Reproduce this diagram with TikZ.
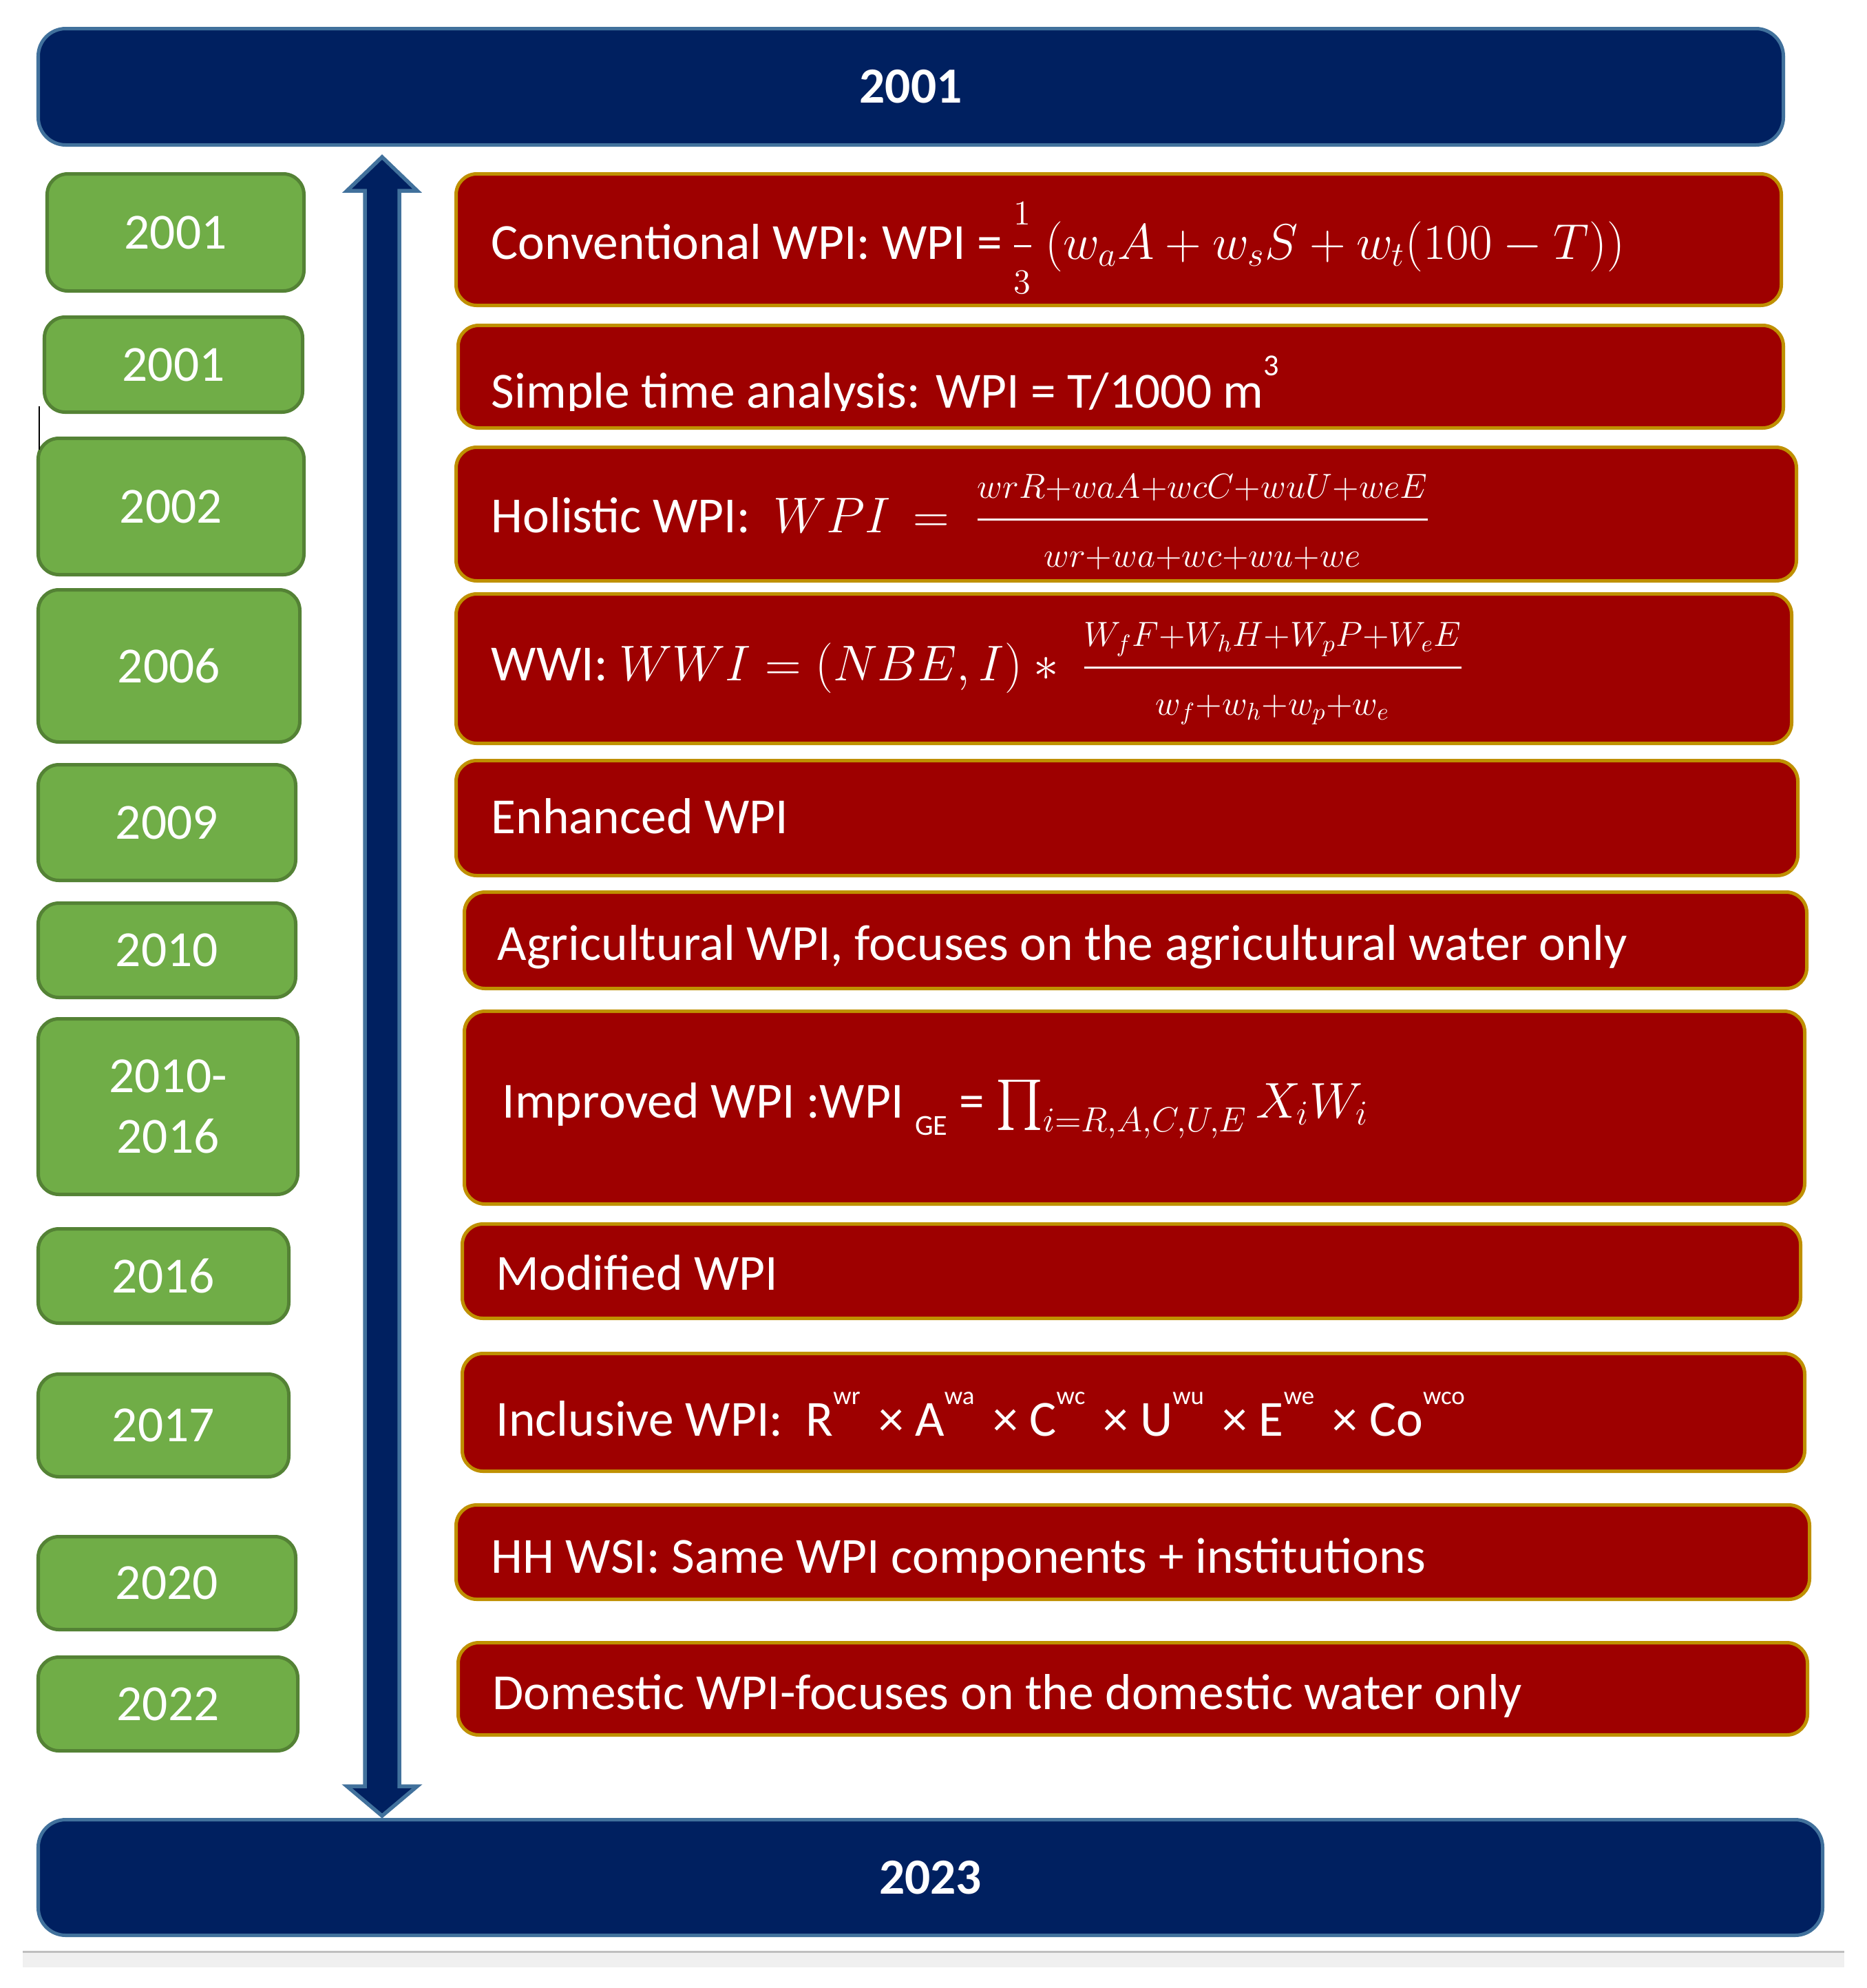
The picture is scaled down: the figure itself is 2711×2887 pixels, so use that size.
\documentclass[tikz,border=0pt]{standalone}
\usepackage{fontspec}
\setmainfont{Carlito}
\usepackage{amsmath}
\definecolor{gfill}{HTML}{70AD47}
\definecolor{gborder}{HTML}{548235}
\definecolor{rfill}{HTML}{9E0000}
\definecolor{rborder}{HTML}{BF9000}
\definecolor{nfill}{HTML}{002060}
\definecolor{nborder}{HTML}{41719C}
\tikzset{
  basebox/.style={rounded corners=0.3cm, line width=0.05cm, inner sep=0pt, text=white,
    font=\fontsize{20.9}{25}\selectfont},
  gbox/.style={basebox, draw=gborder, fill=gfill, align=center},
  rbox/.style={basebox, draw=rborder, fill=rfill},
  nbox/.style={basebox, draw=nborder, fill=nfill, rounded corners=0.4cm,
    font=\fontsize{20.9}{25}\selectfont\bfseries},
  rtext/.style={anchor=base west, inner sep=0pt, text=white,
    font=\fontsize{20.9}{25}\selectfont},
}
\newcommand\mkbox[7]{\node[#1, minimum width={(#5-#3-5)*0.01cm}, minimum height={(#6-#4-5)*0.01cm}] (#2) at ({(#3+#5)/2},{(#4+#6)/2}) {#7};}
\newcommand\supr[1]{\raisebox{0.62em}{\fontsize{10.5}{10.5}\selectfont #1}\hspace{0.1cm}}
\begin{document}
\begin{tikzpicture}[x=0.01cm,y=-0.01cm]
\useasboundingbox[fill=white] (0,0) rectangle (2711,2887);
% top and bottom bars
\mkbox{nbox}{top}{53}{39}{2593}{213}{2001}
\mkbox{nbox}{bottom}{53}{2640}{2650}{2813}{2023}
% timeline arrow
\coordinate (atop) at (555,228);
\coordinate (abot) at (555,2637);
\draw[nborder, fill=nfill, line width=0.055cm, line join=miter]
  (atop) -- (606,277) -- (580,277) -- (580,2594) -- (606,2594) -- (abot)
  -- (504,2594) -- (530,2594) -- (530,277) -- (504,277) -- cycle;
% year boxes
\mkbox{gbox}{g1}{66}{250}{444}{425}{2001}
\mkbox{gbox}{g2}{62}{458}{442}{601}{2001}
\mkbox{gbox}{g3}{53}{634}{444}{837}{2002}
\mkbox{gbox}{g4}{53}{854}{438}{1080}{2006}
\mkbox{gbox}{g5}{53}{1108}{432}{1281}{2009}
\mkbox{gbox}{g6}{53}{1309}{432}{1451}{2010}
\mkbox{gbox}{g7}{53}{1477}{435}{1737}{2010-\\2016}
\mkbox{gbox}{g8}{53}{1782}{422}{1924}{2016}
\mkbox{gbox}{g9}{53}{1993}{422}{2147}{2017}
\mkbox{gbox}{g10}{53}{2229}{432}{2369}{2020}
\mkbox{gbox}{g11}{53}{2404}{435}{2545}{2022}
% index boxes
\mkbox{rbox}{r1}{660}{250}{2590}{446}{}
\mkbox{rbox}{r2}{663}{470}{2593}{624}{}
\mkbox{rbox}{r3}{660}{647}{2612}{846}{}
\mkbox{rbox}{r4}{660}{860}{2605}{1082}{}
\mkbox{rbox}{r5}{660}{1102}{2614}{1274}{}
\mkbox{rbox}{r6}{672}{1293}{2627}{1438}{}
\mkbox{rbox}{r7}{672}{1466}{2624}{1751}{}
\mkbox{rbox}{r8}{669}{1775}{2618}{1917}{}
\mkbox{rbox}{r9}{669}{1963}{2624}{2139}{}
\mkbox{rbox}{r10}{660}{2183}{2631}{2325}{}
\mkbox{rbox}{r11}{663}{2383}{2628}{2522}{}
% texts
\node[rtext] (t1) at (713,376) {Conventional WPI: WPI =\,$\dfrac{\scriptstyle 1}{\scriptstyle 3}$ $(w_aA+w_sS+w_t(100-T))$};
\begin{scope}
  \clip (663,470) rectangle (2593,596);
  \node[rtext] (t2) at (713,592) {Simple time analysis: WPI = T/1000 m\raisebox{0.63em}{\fontsize{12.6}{12.6}\selectfont 3}};
\end{scope}
\node[rtext] (t3) at (713,773) {Holistic WPI:\ \ $WPI\,=\ \dfrac{\scriptstyle wrR+waA+wcC+wuU+weE}{\scriptstyle wr+wa+wc+wu+we}$};
\node[rtext] (t4) at (713,988) {WWI: $WWI=(NBE,I)\ast\ \dfrac{\scriptstyle W_fF+W_hH+W_pP+W_eE}{\scriptstyle w_f+w_h+w_p+w_e}$};
\node[rtext] (t5) at (713,1210) {Enhanced WPI};
\node[rtext] (t6) at (722,1394) {Agricultural WPI, focuses on the agricultural water only};
\node[rtext] (t7) at (729,1623) {Improved WPI :WPI \raisebox{-0.25cm}{\fontsize{12}{12}\selectfont GE} = $\prod_{i=R,A,C,U,E}X_iW_i$};
\node[rtext] (t8) at (720,1873) {Modified WPI};
\node[rtext] (t9) at (720,2085) {Inclusive WPI:\ \ R\supr{wr} × A\supr{wa} × C\supr{wc} × U\supr{wu} × E\supr{we} × Co\supr{wco}};
\node[rtext] (t10) at (713,2284) {HH WSI: Same WPI components + institutions};
\node[rtext] (t11) at (715,2482) {Domestic WPI-focuses on the domestic water only};
% page edge marks
\draw[black, line width=0.02cm] (57,590) -- (57,653);
\fill[black!6] (33,2836) rectangle (2679,2857);
\draw[black!25, line width=0.03cm] (33,2834) -- (2679,2834);
\end{tikzpicture}
\end{document}
